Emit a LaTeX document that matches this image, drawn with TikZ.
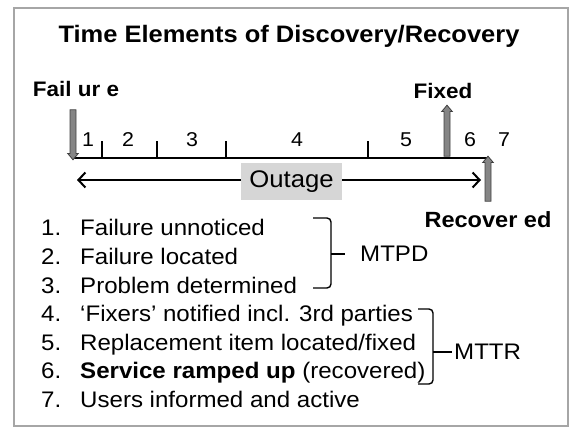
\documentclass[tikz,border=0pt]{standalone}
\usepackage{fontspec}
\setmainfont{Liberation Sans}[FakeStretch=1.07]
\usepackage{xcolor}
\usetikzlibrary{arrows.meta, positioning, shapes.arrows}

\begin{document}
\begin{tikzpicture}[x=1pt, y=-1pt,
    lbl/.style={font=\fontsize{21}{24}\selectfont\bfseries, inner sep=0pt},
    num/.style={font=\fontsize{20}{22}\selectfont, inner sep=0pt},
    item/.style={font=\fontsize{22.5}{27}\selectfont, inner sep=0pt, anchor=base west},
    garrow/.style={single arrow, draw=black!75, fill=black!48, line width=0.8pt,
      inner sep=2.6pt, single arrow head extend=2.2pt, single arrow tip angle=80},
    tick/.style={line width=1.1pt},
    brc/.style={line width=1.4pt, rounded corners=4pt},
  ]
  \useasboundingbox (0,0) rectangle (580,435);
  \draw[black!35, line width=1.4pt] (14,8) rectangle (568,426);

  % title
  \node[font=\fontsize{23.8}{28}\selectfont\bfseries, inner sep=0pt] (title) at (289,36) {Time Elements of Discovery/Recovery};

  % time line
  \coordinate (t0) at (72,158);
  \coordinate (t7) at (489,158);
  \draw[line width=2.2pt] (t0) -- (t7);
  \foreach \x in {102,157,226,368}
    \draw[tick] (\x,158) -- (\x,141);
  \foreach \n/\x in {1/88,2/128,3/192,4/297,5/406,6/470,7/504}
    \node[num] (n\n) at (\x,140) {\n};

  % events
  \node[lbl] (fail) at (76,89) {Fail ur e};
  \node[garrow, minimum height=50pt, shape border rotate=270] (failarr) at (73,133) {};
  \node[lbl] (fixed) at (443,91) {Fixed};
  \node[garrow, minimum height=51pt, shape border rotate=90] (fixarr) at (447,132.5) {};
  \node[garrow, minimum height=45pt, shape border rotate=90] (recarr) at (488,180.5) {};
  \node[lbl, font=\fontsize{22}{24}\selectfont\bfseries] (rec) at (488,220) {Recover ed};

  % outage
  \coordinate (ol) at (77,180);
  \coordinate (or) at (481,180);
  \draw[line width=2pt, {Straight Barb[length=7pt,width=15pt]}-{Straight Barb[length=7pt,width=15pt]}] (ol) -- (or);
  \node[fill=black!16, font=\fontsize{24}{28}\selectfont, minimum width=101pt, minimum height=37pt, inner sep=0pt] (outage) at (291.5,181.5) {Outage};

  % list
  \foreach \n/\txt in {1/Failure unnoticed, 2/Failure located, 3/Problem determined,
      4/{`Fixers' notified incl. 3rd parties}, 5/{Replacement item located/fixed},
      6/{\textbf{Service ramped up} (recovered)}, 7/Users informed and active} {
    \node[item] (k\n) at (41,{236+(\n-1)*28.5}) {\n.};
    \node[item] (item\n) at (80,{236+(\n-1)*28.5}) {\txt};
  }

  % braces
  \coordinate (b1) at (331,254);
  \draw[brc] (313,218) -| (b1) |- (313,288);
  \draw[brc] (b1) -- ++(14,0) coordinate (b1tip);
  \node[item, anchor=west] (mtpd) [right=15pt of b1tip] {MTPD};
  \coordinate (b2) at (433,352);
  \draw[brc] (418,309) -| (b2) |- (418,384);
  \draw[brc] (b2) -- ++(19,0) coordinate (b2tip);
  \node[item, anchor=west] (mttr) [right=2pt of b2tip] {MTTR};
\end{tikzpicture}
\end{document}
